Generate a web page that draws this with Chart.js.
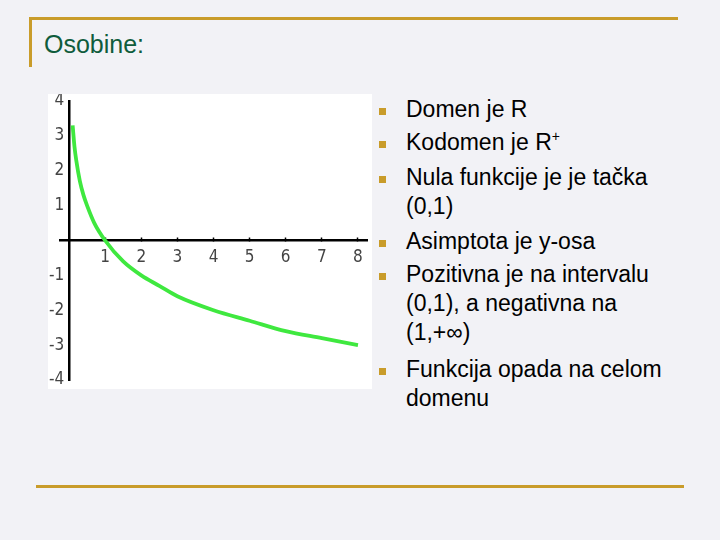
<!DOCTYPE html>
<html>
<head>
<meta charset="utf-8">
<script src="https://cdn.jsdelivr.net/npm/chart.js@4"></script>
<style>
  html, body { margin: 0; padding: 0; }
  body { width: 720px; height: 540px; background: #f2f2f6; position: relative; overflow: hidden;
         font-family: "Liberation Sans", Arial, sans-serif; }
  .rule { position: absolute; background: #c99c2a; }
  #title { position: absolute; left: 44px; top: 28.6px; font-size: 25px; line-height: 30px; color: #0f5c3c; }
  #plot { position: absolute; left: 48px; top: 94px; width: 324px; height: 295px; background: #fff; }
  .item { position: absolute; left: 406px; font-size: 23px; line-height: 29px; color: #000; white-space: nowrap; }
  .bullet { position: absolute; left: 379px; width: 7px; height: 7px; background: #c99c2a; }
</style>
</head>
<body>
<div class="rule" style="left:29px; top:17px; width:649px; height:3px;"></div>
<div class="rule" style="left:29px; top:17px; width:3px; height:50px;"></div>
<div class="rule" style="left:36px; top:485px; width:648px; height:3px;"></div>
<div id="title">Osobine:</div>
<canvas id="plot" width="324" height="295"></canvas>
<div id="list"></div>
<script>
// points
const xValues = [0.1, 0.15, 0.2, 0.3, 0.4, 0.5, 0.7, 1, 1.5, 2, 2.5, 3, 4, 5, 6, 7, 8];
const yValues = [3.3, 2.7, 2.3, 1.7, 1.3, 1, 0.5, 0, -0.6, -1, -1.3, -1.6, -2, -2.3, -2.6, -2.8, -3];
const xTicks = [1, 2, 3, 4, 5, 6, 7, 8];
const yTicks = [4, 3, 2, 1, -1, -2, -3, -4];

const items = [
  'Domen je R',
  'Kodomen je R<sup style="font-size:14px;vertical-align:9px;line-height:0">+</sup>',
  'Nula funkcije je je tačka<br>(0,1)',
  'Asimptota je y-osa',
  'Pozitivna je na intervalu<br>(0,1), a negativna na<br>(1,+∞)',
  'Funkcija opada na celom<br>domenu'
];
const baselines = [117, 150, 185, 249, 282, 377];

const list = document.getElementById('list');
items.forEach((html, i) => {
  const b = document.createElement('div');
  b.className = 'bullet';
  b.style.top = (baselines[i] - 9.5) + 'px';
  list.appendChild(b);
  const d = document.createElement('div');
  d.className = 'item';
  d.style.top = (baselines[i] - 22.5) + 'px';
  d.innerHTML = html;
  list.appendChild(d);
});

const tickFont = { family: '"DejaVu Sans Condensed", "Liberation Sans Narrow", "DejaVu Sans", sans-serif', size: 17 };

// axes sit at x=0 / y=0, so they should not take room from the plot
const noRoom = (s) => {
  if (s.isHorizontal()) s.height = 0; else s.width = 0;
  s.paddingTop = s.paddingBottom = s.paddingLeft = s.paddingRight = 0;
};

new Chart(document.getElementById('plot'), {
  type: 'scatter',
  data: {
    datasets: [{
      data: xValues.map((x, i) => ({ x: x, y: yValues[i] })),
      showLine: true,
      borderColor: '#3fe83f',
      borderWidth: 3.8,
      pointRadius: 0,
      cubicInterpolationMode: 'monotone'
    }]
  },
  options: {
    responsive: false,
    animation: false,
    devicePixelRatio: 1,
    layout: { padding: { left: 12, right: 5, top: 7, bottom: 9 } },
    plugins: { legend: { display: false }, tooltip: { enabled: false } },
    scales: {
      x: {
        type: 'linear',
        min: -0.25,
        max: 8.25,
        position: { y: 0 },
        afterFit: noRoom,
        afterBuildTicks: (s) => { s.ticks = xTicks.map(v => ({ value: v })); },
        grid: { drawOnChartArea: false, drawTicks: true, tickLength: -4, tickWidth: 1.5, tickColor: '#000' },
        border: { display: true, color: '#000', width: 2.5 },
        ticks: { padding: 11, color: '#444', font: tickFont, maxRotation: 0, autoSkip: false }
      },
      y: {
        type: 'linear',
        min: -4,
        max: 4,
        position: { x: 0 },
        afterFit: noRoom,
        afterBuildTicks: (s) => { s.ticks = yTicks.map(v => ({ value: v })); },
        grid: { display: false },
        border: { display: true, color: '#000', width: 2.5 },
        // labels are right-aligned on the axis line; a trailing space keeps a gap
        ticks: { color: '#444', font: tickFont, autoSkip: false, callback: (v) => v + ' ' }
      }
    }
  }
});
</script>
</body>
</html>
